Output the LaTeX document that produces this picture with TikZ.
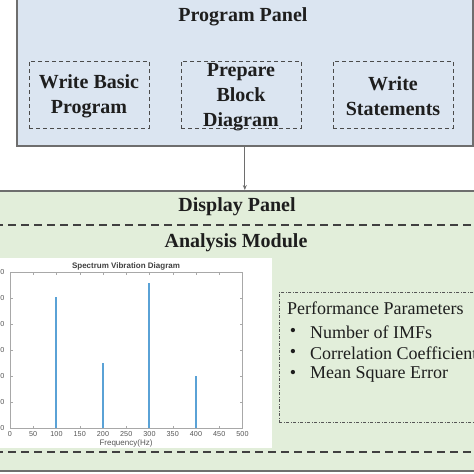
\documentclass[tikz,border=0pt]{standalone}
\usepackage{fontspec}
\setmainfont{Liberation Serif}
\newfontfamily\plotfont{Liberation Sans}
\usetikzlibrary{arrows.meta}
\definecolor{bluefill}{HTML}{DBE5F1}
\definecolor{greenfill}{HTML}{E2EEDA}
\definecolor{panelborder}{HTML}{6E6E6E}
\definecolor{txt}{HTML}{1E1E1E}
\definecolor{axisgray}{HTML}{A8A8A8}
\definecolor{spike}{HTML}{5AA2D6}
\tikzset{
  panel/.style={draw=panelborder, line width=1.6pt, anchor=north west, inner sep=0pt},
  titletext/.style={text=txt, font=\fontsize{20}{24}\selectfont\bfseries, inner sep=0pt},
  stepbox/.style={draw=txt!80, dashed, dash pattern=on 4pt off 3pt, line width=0.8pt,
    minimum width=120pt, minimum height=67pt, inner sep=0pt},
  boxtext/.style={text=txt, font=\fontsize{20}{25}\selectfont\bfseries, align=center, inner sep=0pt},
  sepline/.style={draw=txt!85, line width=1.2pt, dash pattern=on 8pt off 5pt},
  perfbox/.style={draw=txt!75, line width=0.6pt, dash pattern=on 3pt off 1.5pt on 1pt off 1.5pt,
    anchor=north west, inner sep=0pt},
  perftext/.style={text=txt, font=\fontsize{18}{21}\selectfont, inner sep=0pt},
  ticklab/.style={text=txt!75, font=\plotfont\fontsize{7.2}{8}\selectfont, inner sep=0pt},
  spikebar/.style={fill=spike},
  flow/.style={draw=panelborder, line width=0.8pt, -{Stealth[length=5pt,width=4pt]}}
}
\begin{document}
\begin{tikzpicture}[x=1pt,y=-1pt]
\useasboundingbox (0,0) rectangle (474,474);
\clip (0,0) rectangle (474,474);
% panels
\node[panel, fill=bluefill, minimum width=456pt, minimum height=147pt] (prog) at (16,-2) {};
\node[panel, fill=greenfill, minimum width=484pt, minimum height=280pt] (disp) at (-5,190) {};
% program panel content
\node[titletext] (progtitle) at (243,17) {Program Panel};
\node[stepbox] (b1) at (89,94.5) {};
\node[stepbox] (b2) at (241,94.5) {};
\node[stepbox] (b3) at (393,94.5) {};
\node[boxtext] (t1) at (89,96) {Write Basic\\Program};
\node[boxtext] (t2) at (241,97) {Prepare\\Block\\Diagram};
\node[boxtext] (t3) at (393,96) {Write\\Statements};
% arrow
\draw[flow] (prog.south) -- (prog.south |- disp.north);
% display panel content
\node[titletext] (disptitle) at (237,207) {Display Panel};
\draw[sepline] (-5,225) -- (480,225);
\node[titletext] (anatitle) at (236,243) {Analysis Module};
\draw[sepline] (-5,452) -- (480,452);
% plot image
\fill[white] (-2,258) rectangle (272,448);
\draw[axisgray, line width=0.6pt] (10,272) rectangle (242.5,428);
\foreach \i in {0,...,10} {
  \pgfmathsetmacro{\xx}{10+\i*23.25}
  \draw[axisgray, line width=0.5pt] (\xx,428) -- (\xx,425.5);
  \draw[axisgray, line width=0.5pt] (\xx,272) -- (\xx,274.5);
  \pgfmathtruncatemacro{\lab}{\i*50}
  \node[ticklab] (xl\i) at (\xx,434.5) {\lab};
}
\foreach \j in {0,...,6} {
  \pgfmathsetmacro{\yy}{428-\j*26}
  \draw[axisgray, line width=0.5pt] (10,\yy) -- (12.5,\yy);
  \draw[axisgray, line width=0.5pt] (242.5,\yy) -- (240,\yy);
  \node[ticklab, anchor=east] (yl\j) at (4.5,\yy) {0};
}
\node[ticklab, text=txt!85, font=\plotfont\fontsize{8}{9}\selectfont\bfseries] (ptitle) at (126,266) {Spectrum Vibration Diagram};
\node[ticklab, font=\plotfont\fontsize{8}{9}\selectfont] (xlabel) at (126,443.5) {Frequency(Hz)};
\fill[spikebar] (55,297) rectangle (57,428);
\fill[spikebar] (102,363) rectangle (104,428);
\fill[spikebar] (148,283) rectangle (150,428);
\fill[spikebar] (195,376) rectangle (197,428);
% performance parameters
\node[perfbox, minimum width=200pt, minimum height=130pt] (perf) at (279,292) {};
\node[perftext, anchor=west] (ptit) at (287,308) {Performance Parameters};
\node[perftext] (bu1) at (293,332) {•};
\node[perftext] (bu2) at (293,353) {•};
\node[perftext] (bu3) at (293,374) {•};
\node[perftext, anchor=west] (it1) at (310,332) {Number of IMFs};
\node[perftext, anchor=west] (it2) at (310,353) {Correlation Coefficient};
\node[perftext, anchor=west] (it3) at (310,374) {Mean Square Error};
\end{tikzpicture}
\end{document}
